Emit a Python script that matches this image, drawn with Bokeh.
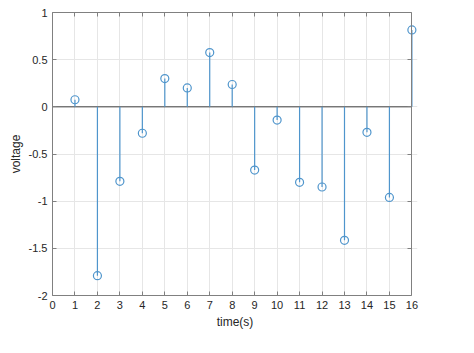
from bokeh.plotting import figure
from bokeh.models import FixedTicker, LinearAxis, Range1d
from bokeh.embed import file_html
from bokeh.resources import INLINE

# data
t = list(range(1, 17))
voltage = [0.075, -1.79, -0.79, -0.28, 0.30, 0.20, 0.575, 0.237,
           -0.67, -0.14, -0.80, -0.85, -1.415, -0.27, -0.96, 0.815]
x_ticks = list(range(0, 17))
y_ticks = [-2, -1.5, -1, -0.5, 0, 0.5, 1]
y_tick_labels = ["-2", "-1.5", "-1", "-0.5", "0", "0.5", "1"]
x_min, x_max = x_ticks[0], x_ticks[-1]
y_min, y_max = y_ticks[0], y_ticks[-1]

FONT = "Liberation Sans"
TXT = "#262626"
AX = "#808080"
STEM = "#4f95cc"

# the x range runs a little past 16 so that the last marker is not clipped;
# the box itself is drawn by the four axes, bounded to 0..16
p = figure(width=474, height=353, output_backend="svg", toolbar_location=None,
           x_range=Range1d(x_min, x_max + 0.25), y_range=Range1d(y_min, y_max),
           min_border_left=52, min_border_right=57, min_border_top=12, min_border_bottom=58,
           x_axis_label="time(s)", y_axis_label="voltage")
p.background_fill_color = "white"
p.border_fill_color = "white"
p.outline_line_color = None

p.xaxis.ticker = FixedTicker(ticks=x_ticks)
p.yaxis.ticker = FixedTicker(ticks=y_ticks)
p.yaxis.major_label_overrides = {float(v): s for v, s in zip(y_ticks, y_tick_labels)}
p.xaxis.major_label_overrides = {v: str(v) for v in x_ticks}
p.xaxis.bounds = (x_min, x_max)
p.yaxis.bounds = (y_min, y_max)

for ax in (p.xaxis[0], p.yaxis[0]):
    ax.axis_line_color = AX
    ax.major_tick_line_color = AX
    ax.major_tick_in = 4
    ax.major_tick_out = 0
    ax.minor_tick_line_color = None
    ax.major_label_text_font = FONT
    ax.major_label_text_font_size = "11px"
    ax.major_label_text_color = TXT
    ax.axis_label_text_font = FONT
    ax.axis_label_text_font_size = "12px"
    ax.axis_label_text_font_style = "normal"
    ax.axis_label_text_color = TXT
p.xaxis.major_label_standoff = 5
p.xaxis.axis_label_standoff = 3
p.yaxis.major_label_standoff = 5
p.yaxis.axis_label_standoff = 3

# top and right tick-only axes (MATLAB box)
top = LinearAxis(ticker=FixedTicker(ticks=x_ticks), bounds=(x_min, x_max),
                 major_label_overrides={v: "" for v in x_ticks},
                 axis_line_color=AX, major_tick_line_color=AX, major_tick_in=4, major_tick_out=0,
                 minor_tick_line_color=None, major_label_standoff=0)
right = LinearAxis(ticker=FixedTicker(ticks=y_ticks), bounds=(y_min, y_max), fixed_location=x_max,
                   major_label_overrides={float(v): "" for v in y_ticks},
                   axis_line_color=AX, major_tick_line_color=AX, major_tick_in=4, major_tick_out=0,
                   minor_tick_line_color=None, major_label_standoff=0)
p.add_layout(top, "above")
p.add_layout(right, "right")

p.xgrid.grid_line_color = "#e6e6e6"
p.ygrid.grid_line_color = "#e6e6e6"
p.xgrid.ticker = FixedTicker(ticks=x_ticks)
p.ygrid.ticker = FixedTicker(ticks=y_ticks)
p.ygrid.bounds = (x_min, x_max)
p.xgrid.bounds = (y_min, y_max)

# baseline of the stem plot
p.segment(x0=[x_min], y0=[0], x1=[x_max], y1=[0], line_color="#404040", line_width=1)

p.segment(x0=t, y0=[0] * len(t), x1=t, y1=voltage, line_color=STEM, line_width=1.2)
p.scatter(x=t, y=voltage, marker="circle", size=8, fill_color=None,
          line_color=STEM, line_width=1.2)

open("out.html", "w").write(file_html(p, INLINE))
